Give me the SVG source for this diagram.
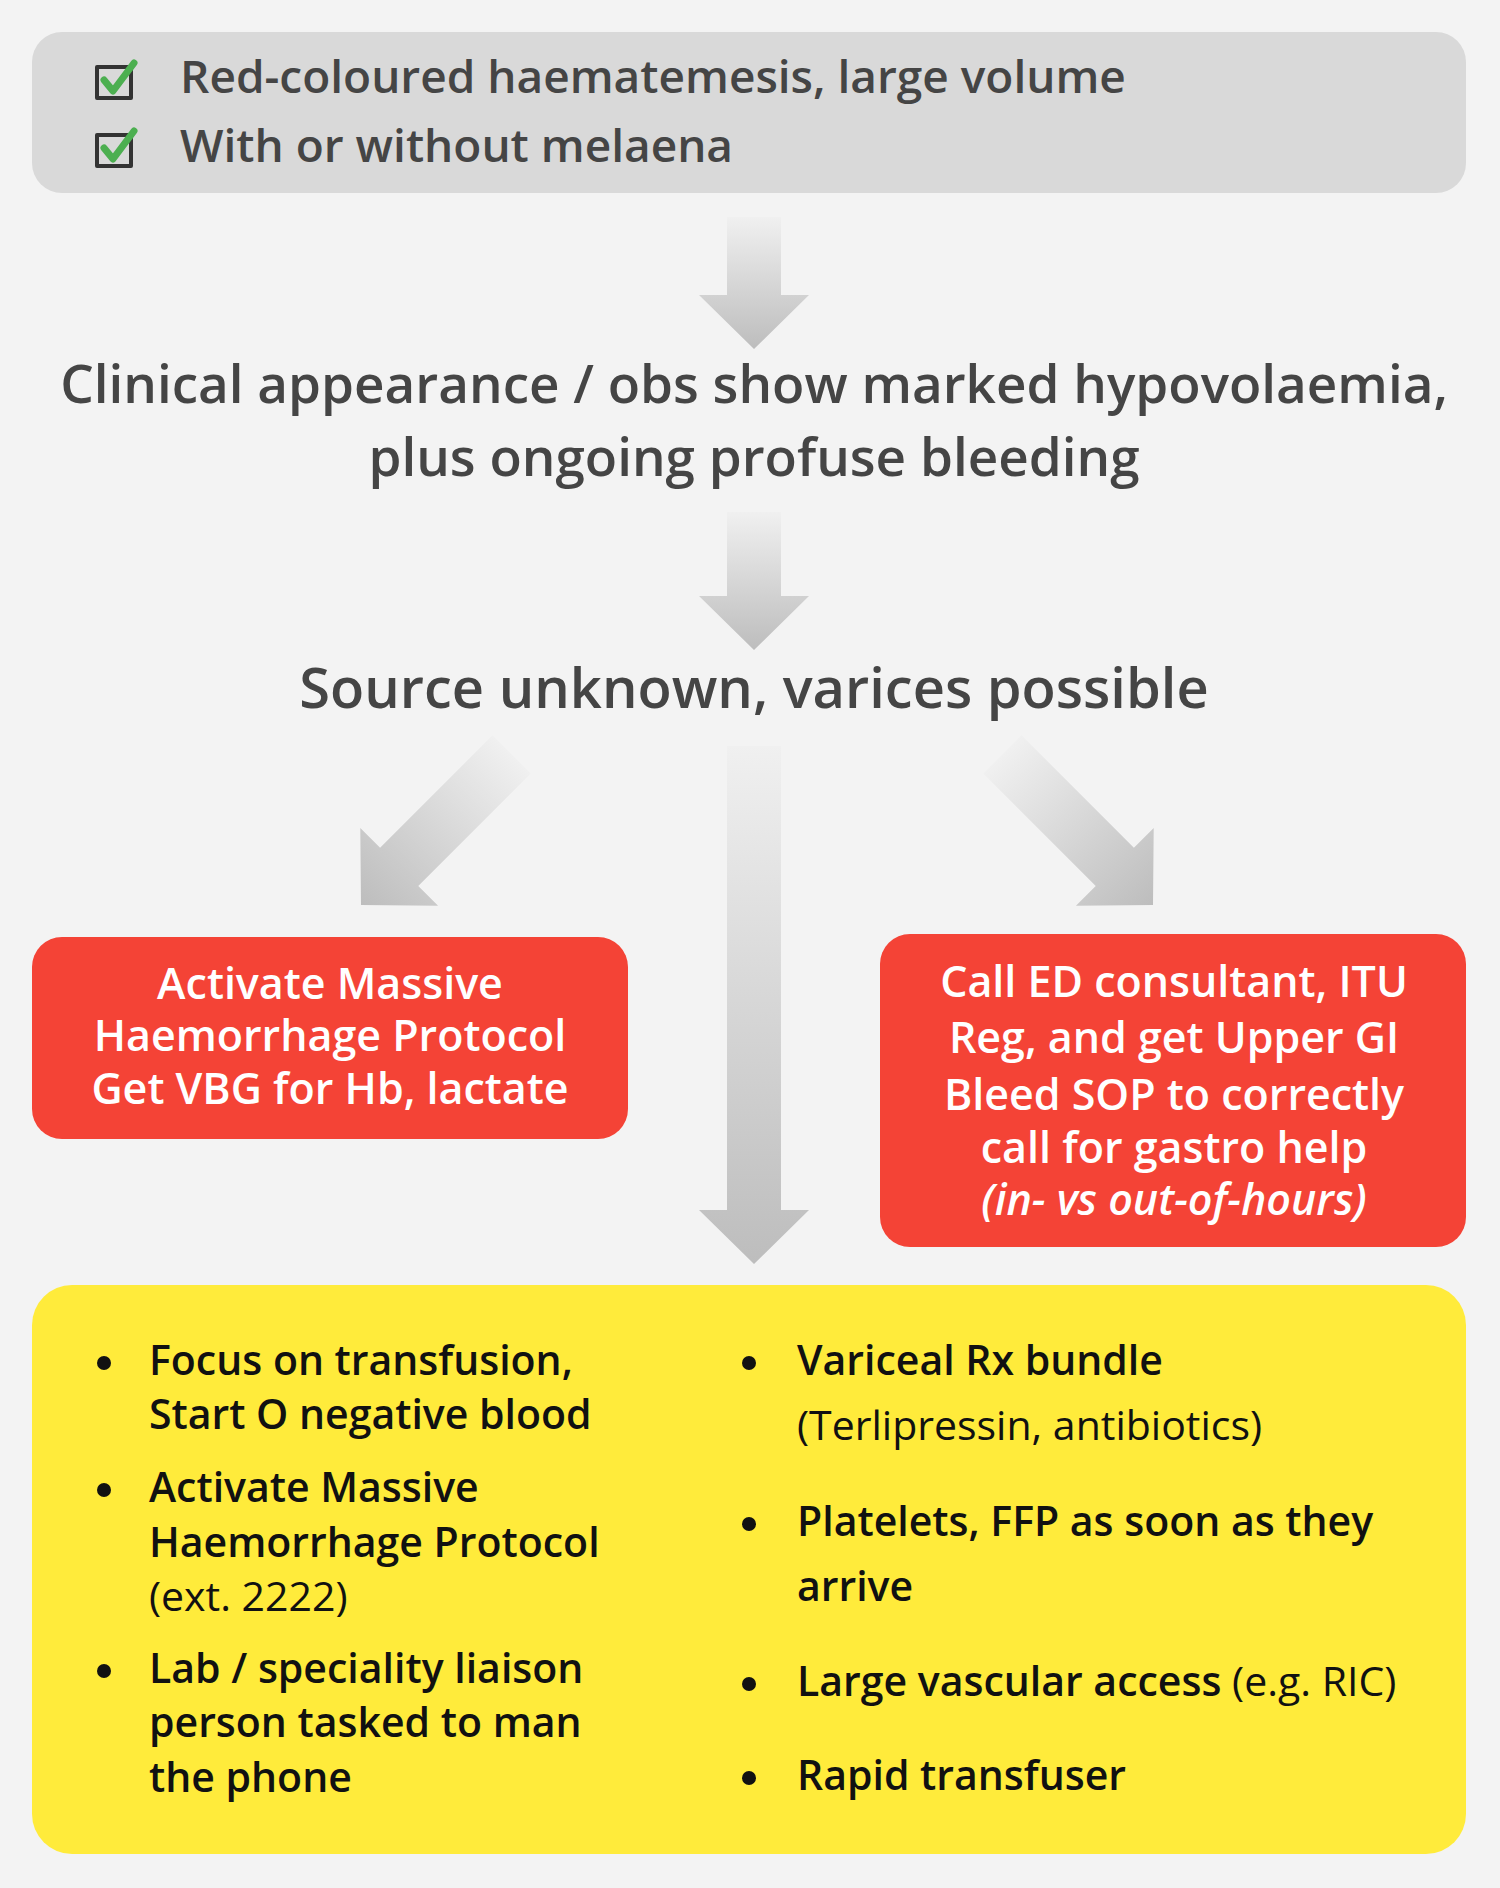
<svg xmlns="http://www.w3.org/2000/svg" width="1500" height="1888" viewBox="0 0 1500 1888">
<style>
text{font-family:"Open Sans","DejaVu Sans",sans-serif}
.h{fill:#454545;font-weight:600}
.w{fill:#fff;font-weight:600;font-size:43px;text-anchor:middle}
.b{fill:#111;font-weight:600;font-size:41px}
.r{font-weight:400}
</style>
<defs>
<linearGradient id="g" x1="0" y1="0" x2="0" y2="1"><stop offset="0" stop-color="#f0f0f0"/><stop offset="1" stop-color="#bdbdbd"/></linearGradient>
</defs>
<rect width="1500" height="1888" fill="#f3f3f3"/>
<g id="top">
<rect x="32" y="32" width="1434" height="161" rx="30" fill="#d9d9d9"/>
<g fill="none" stroke-linecap="round" stroke-linejoin="round">
<rect x="97" y="67" width="34" height="31" stroke="#333" stroke-width="4"/>
<path d="M104 80 L113 91 L134 63" stroke="#4caf50" stroke-width="7"/>
<rect x="97" y="135" width="34" height="31" stroke="#333" stroke-width="4"/>
<path d="M104 148 L113 159 L134 131" stroke="#4caf50" stroke-width="7"/>
</g>
<text class="h" x="180" y="93" font-size="46">Red-coloured haematemesis, large volume</text>
<text class="h" x="180" y="162" font-size="46">With or without melaena</text>
</g>
<g id="connectors" fill="url(#g)">
<path transform="translate(754,349)" d="M-27,-132 H27 V-54 H55 L0,0 L-55,-54 H-27 Z"/>
<path transform="translate(754,650)" d="M-27,-138 H27 V-54 H55 L0,0 L-55,-54 H-27 Z"/>
<path transform="translate(754,1264)" d="M-27,-518 H27 V-54 H55 L0,0 L-55,-54 H-27 Z"/>
<path transform="translate(361,905) rotate(45)" d="M-27,-213 H27 V-54 H55 L0,0 L-55,-54 H-27 Z"/>
<path transform="translate(1153,905) rotate(-45)" d="M-27,-213 H27 V-54 H55 L0,0 L-55,-54 H-27 Z"/>
</g>
<g id="clinical"><text class="h" x="754" y="403" font-size="53" text-anchor="middle">Clinical appearance / obs show marked hypovolaemia,</text>
<text class="h" x="754" y="476" font-size="53" text-anchor="middle">plus ongoing profuse bleeding</text></g>
<g id="source"><text class="h" x="754" y="708" font-size="56" text-anchor="middle">Source unknown, varices possible</text></g>
<g id="mhp">
<rect x="32" y="937" width="596" height="202" rx="30" fill="#f44336"/>
<text class="w" x="330" y="999">Activate Massive</text>
<text class="w" x="330" y="1051">Haemorrhage Protocol</text>
<text class="w" x="330" y="1104">Get VBG for Hb, lactate</text>
</g>
<g id="call">
<rect x="880" y="934" width="586" height="313" rx="30" fill="#f44336"/>
<text class="w" x="1174" y="997">Call ED consultant, ITU</text>
<text class="w" x="1174" y="1053">Reg, and get Upper GI</text>
<text class="w" x="1174" y="1110">Bleed SOP to correctly</text>
<text class="w" x="1174" y="1163">call for gastro help</text>
<text class="w" x="1174" y="1215" font-style="italic">(in- vs out-of-hours)</text>
</g>
<g id="actions">
<rect x="32" y="1285" width="1434" height="569" rx="40" fill="#ffeb3b"/>
<g fill="#111"><circle cx="104" cy="1363" r="7"/><circle cx="104" cy="1490" r="7"/><circle cx="104" cy="1671" r="7"/>
<circle cx="749" cy="1363" r="7"/><circle cx="749" cy="1524" r="7"/><circle cx="749" cy="1684" r="7"/><circle cx="749" cy="1778" r="7"/></g>
<text class="b" x="149" y="1375">Focus on transfusion,</text>
<text class="b" x="149" y="1429">Start O negative blood</text>
<text class="b" x="149" y="1502">Activate Massive</text>
<text class="b" x="149" y="1557">Haemorrhage Protocol</text>
<text class="b r" x="149" y="1611">(ext. 2222)</text>
<text class="b" x="149" y="1683">Lab / speciality liaison</text>
<text class="b" x="149" y="1737">person tasked to man</text>
<text class="b" x="149" y="1792">the phone</text>
<text class="b" x="797" y="1375">Variceal Rx bundle</text>
<text class="b r" x="797" y="1440">(Terlipressin, antibiotics)</text>
<text class="b" x="797" y="1536">Platelets, FFP as soon as they</text>
<text class="b" x="797" y="1601">arrive</text>
<text class="b" x="797" y="1696">Large vascular access <tspan class="r">(e.g. RIC)</tspan></text>
<text class="b" x="797" y="1790">Rapid transfuser</text>
</g>
</svg>
